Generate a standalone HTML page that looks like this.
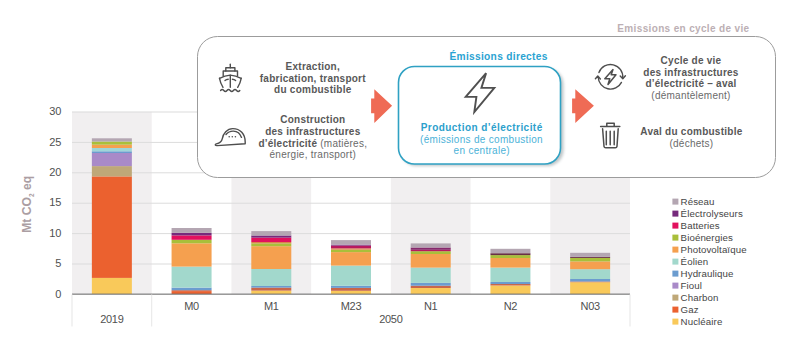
<!DOCTYPE html>
<html><head><meta charset="utf-8"><style>
html,body{margin:0;padding:0;background:#fff;width:800px;height:350px;overflow:hidden}
svg{display:block;font-family:"Liberation Sans",sans-serif}
.ax{font-size:11px;fill:#505050;letter-spacing:-0.3px}
.lg{font-size:9.7px;fill:#454545;letter-spacing:0.1px}
.yt{font-size:12.2px;font-weight:bold;fill:#ab9ea3}
.ttl{font-size:10px;font-weight:bold;fill:#bcafb4;letter-spacing:0.35px}
.bl{font-size:10.2px;font-weight:bold;fill:#2aa3d2;letter-spacing:0.3px}
.blb{font-size:10px;font-weight:bold;fill:#2ba0cc;letter-spacing:0.45px}
.blr{font-size:10px;fill:#4bb2d8;letter-spacing:0.3px}
.dk{font-size:10px;font-weight:bold;fill:#585858;letter-spacing:0.25px}
.rg{font-weight:normal;fill:#6a6a6a}
</style></head><body>
<svg width="800" height="350" viewBox="0 0 800 350">
<defs><filter id="blur" x="-10%" y="-10%" width="120%" height="120%"><feGaussianBlur stdDeviation="1.5"/></filter></defs>
<rect x="72.00" y="111.8" width="79.71" height="182.20" fill="#f1eff0"/>
<rect x="231.43" y="111.8" width="79.71" height="182.20" fill="#f1eff0"/>
<rect x="390.86" y="111.8" width="79.71" height="182.20" fill="#f1eff0"/>
<rect x="550.29" y="111.8" width="79.71" height="182.20" fill="#f1eff0"/>
<rect x="72.0" y="263.50" width="558.0" height="1" fill="#dcdcdc"/>
<rect x="72.0" y="233.10" width="558.0" height="1" fill="#dcdcdc"/>
<rect x="72.0" y="202.70" width="558.0" height="1" fill="#dcdcdc"/>
<rect x="72.0" y="172.30" width="558.0" height="1" fill="#dcdcdc"/>
<rect x="72.0" y="141.90" width="558.0" height="1" fill="#dcdcdc"/>
<rect x="72.0" y="111.50" width="558.0" height="1" fill="#dcdcdc"/>
<rect x="91.86" y="277.90" width="40.0" height="16.10" fill="#f9c95a"/>
<rect x="91.86" y="176.40" width="40.0" height="101.50" fill="#eb612f"/>
<rect x="91.86" y="166.10" width="40.0" height="10.30" fill="#bfa878"/>
<rect x="91.86" y="153.00" width="40.0" height="13.10" fill="#a98ac8"/>
<rect x="91.86" y="151.30" width="40.0" height="1.70" fill="#6b9ccf"/>
<rect x="91.86" y="148.00" width="40.0" height="3.30" fill="#9fd6d8"/>
<rect x="91.86" y="144.60" width="40.0" height="3.40" fill="#f5a04f"/>
<rect x="91.86" y="141.50" width="40.0" height="3.10" fill="#a9bf3a"/>
<rect x="91.86" y="138.30" width="40.0" height="3.20" fill="#b4a6b2"/>
<rect x="171.57" y="291.10" width="40.0" height="2.90" fill="#eb612f"/>
<rect x="171.57" y="290.20" width="40.0" height="0.90" fill="#c8674a"/>
<rect x="171.57" y="287.60" width="40.0" height="2.60" fill="#6b9ccf"/>
<rect x="171.57" y="266.60" width="40.0" height="21.00" fill="#a2d8cc"/>
<rect x="171.57" y="243.30" width="40.0" height="23.30" fill="#f5a04f"/>
<rect x="171.57" y="239.80" width="40.0" height="3.50" fill="#a9bf3a"/>
<rect x="171.57" y="235.40" width="40.0" height="4.40" fill="#e2105e"/>
<rect x="171.57" y="232.90" width="40.0" height="2.50" fill="#762a7c"/>
<rect x="171.57" y="228.00" width="40.0" height="4.90" fill="#b4a6b2"/>
<rect x="251.29" y="290.60" width="40.0" height="3.40" fill="#f9c95a"/>
<rect x="251.29" y="287.60" width="40.0" height="3.00" fill="#c8674a"/>
<rect x="251.29" y="286.00" width="40.0" height="1.60" fill="#6b9ccf"/>
<rect x="251.29" y="269.00" width="40.0" height="17.00" fill="#a2d8cc"/>
<rect x="251.29" y="246.20" width="40.0" height="22.80" fill="#f5a04f"/>
<rect x="251.29" y="243.40" width="40.0" height="2.80" fill="#a9bf3a"/>
<rect x="251.29" y="242.00" width="40.0" height="1.40" fill="#d9844a"/>
<rect x="251.29" y="237.60" width="40.0" height="4.40" fill="#e2105e"/>
<rect x="251.29" y="235.50" width="40.0" height="2.10" fill="#762a7c"/>
<rect x="251.29" y="231.10" width="40.0" height="4.40" fill="#b4a6b2"/>
<rect x="331.00" y="290.80" width="40.0" height="3.20" fill="#f9c95a"/>
<rect x="331.00" y="287.90" width="40.0" height="2.90" fill="#c8674a"/>
<rect x="331.00" y="285.80" width="40.0" height="2.10" fill="#6b9ccf"/>
<rect x="331.00" y="265.60" width="40.0" height="20.20" fill="#a2d8cc"/>
<rect x="331.00" y="252.10" width="40.0" height="13.50" fill="#f5a04f"/>
<rect x="331.00" y="249.70" width="40.0" height="2.40" fill="#a9bf3a"/>
<rect x="331.00" y="248.30" width="40.0" height="1.40" fill="#d9844a"/>
<rect x="331.00" y="245.60" width="40.0" height="2.70" fill="#b8195e"/>
<rect x="331.00" y="244.60" width="40.0" height="1.00" fill="#762a7c"/>
<rect x="331.00" y="240.10" width="40.0" height="4.50" fill="#b4a6b2"/>
<rect x="410.71" y="288.00" width="40.0" height="6.00" fill="#f9c95a"/>
<rect x="410.71" y="285.70" width="40.0" height="2.30" fill="#c8674a"/>
<rect x="410.71" y="282.90" width="40.0" height="2.80" fill="#6b9ccf"/>
<rect x="410.71" y="267.60" width="40.0" height="15.30" fill="#a2d8cc"/>
<rect x="410.71" y="254.00" width="40.0" height="13.60" fill="#f5a04f"/>
<rect x="410.71" y="251.20" width="40.0" height="2.80" fill="#a9bf3a"/>
<rect x="410.71" y="249.80" width="40.0" height="1.40" fill="#b8195e"/>
<rect x="410.71" y="247.50" width="40.0" height="2.30" fill="#86286c"/>
<rect x="410.71" y="243.40" width="40.0" height="4.10" fill="#b4a6b2"/>
<rect x="490.43" y="285.50" width="40.0" height="8.50" fill="#f9c95a"/>
<rect x="490.43" y="284.00" width="40.0" height="1.50" fill="#c8674a"/>
<rect x="490.43" y="282.00" width="40.0" height="2.00" fill="#6b9ccf"/>
<rect x="490.43" y="267.60" width="40.0" height="14.40" fill="#a2d8cc"/>
<rect x="490.43" y="258.00" width="40.0" height="9.60" fill="#f5a04f"/>
<rect x="490.43" y="255.10" width="40.0" height="2.90" fill="#a9bf3a"/>
<rect x="490.43" y="253.20" width="40.0" height="1.90" fill="#6a3045"/>
<rect x="490.43" y="248.80" width="40.0" height="4.40" fill="#b4a6b2"/>
<rect x="570.14" y="282.20" width="40.0" height="11.80" fill="#f9c95a"/>
<rect x="570.14" y="281.50" width="40.0" height="0.70" fill="#c8674a"/>
<rect x="570.14" y="279.00" width="40.0" height="2.50" fill="#6b9ccf"/>
<rect x="570.14" y="269.20" width="40.0" height="9.80" fill="#a2d8cc"/>
<rect x="570.14" y="261.40" width="40.0" height="7.80" fill="#f5a04f"/>
<rect x="570.14" y="257.90" width="40.0" height="3.50" fill="#a9bf3a"/>
<rect x="570.14" y="256.90" width="40.0" height="1.00" fill="#6a3045"/>
<rect x="570.14" y="252.80" width="40.0" height="4.10" fill="#b4a6b2"/>
<rect x="72.0" y="293.6" width="558.0" height="1.1" fill="#707070"/>
<rect x="71.50" y="294.5" width="1" height="32" fill="#e6e6e6"/>
<rect x="151.21" y="294.5" width="1" height="32" fill="#e6e6e6"/>
<rect x="629.50" y="294.5" width="1" height="32" fill="#e6e6e6"/>
<text x="61" y="297.50" text-anchor="end" class="ax">0</text>
<text x="61" y="267.10" text-anchor="end" class="ax">5</text>
<text x="61" y="236.70" text-anchor="end" class="ax">10</text>
<text x="61" y="206.30" text-anchor="end" class="ax">15</text>
<text x="61" y="175.90" text-anchor="end" class="ax">20</text>
<text x="61" y="145.50" text-anchor="end" class="ax">25</text>
<text x="61" y="115.10" text-anchor="end" class="ax">30</text>
<text x="111.86" y="323" text-anchor="middle" class="ax">2019</text>
<text x="191.57" y="310" text-anchor="middle" class="ax">M0</text>
<text x="271.29" y="310" text-anchor="middle" class="ax">M1</text>
<text x="351.00" y="310" text-anchor="middle" class="ax">M23</text>
<text x="430.71" y="310" text-anchor="middle" class="ax">N1</text>
<text x="510.43" y="310" text-anchor="middle" class="ax">N2</text>
<text x="590.14" y="310" text-anchor="middle" class="ax">N03</text>
<text x="390.86" y="322.7" text-anchor="middle" class="ax">2050</text>
<text transform="translate(31,204.3) rotate(-90)" text-anchor="middle" class="yt">Mt CO<tspan font-size="6.5" dy="2.5">2</tspan><tspan dy="-2.5"> eq</tspan></text>
<rect x="672.4" y="198.60" width="6" height="6" fill="#b4a6b2"/>
<text x="680.6" y="205.10" class="lg">Réseau</text>
<rect x="672.4" y="210.60" width="6" height="6" fill="#762a7c"/>
<text x="680.6" y="217.10" class="lg">Électrolyseurs</text>
<rect x="672.4" y="222.60" width="6" height="6" fill="#e2105e"/>
<text x="680.6" y="229.10" class="lg">Batteries</text>
<rect x="672.4" y="234.60" width="6" height="6" fill="#a9bf3a"/>
<text x="680.6" y="241.10" class="lg">Bioénergies</text>
<rect x="672.4" y="246.60" width="6" height="6" fill="#f5a04f"/>
<text x="680.6" y="253.10" class="lg">Photovoltaïque</text>
<rect x="672.4" y="258.60" width="6" height="6" fill="#a2d8cc"/>
<text x="680.6" y="265.10" class="lg">Éolien</text>
<rect x="672.4" y="270.60" width="6" height="6" fill="#6b9ccf"/>
<text x="680.6" y="277.10" class="lg">Hydraulique</text>
<rect x="672.4" y="282.60" width="6" height="6" fill="#a98ac8"/>
<text x="680.6" y="289.10" class="lg">Fioul</text>
<rect x="672.4" y="294.60" width="6" height="6" fill="#bfa878"/>
<text x="680.6" y="301.10" class="lg">Charbon</text>
<rect x="672.4" y="306.60" width="6" height="6" fill="#eb612f"/>
<text x="680.6" y="313.10" class="lg">Gaz</text>
<rect x="672.4" y="318.60" width="6" height="6" fill="#f9c95a"/>
<text x="680.6" y="325.10" class="lg">Nucléaire</text>
<rect x="197.5" y="36.5" width="578" height="141" rx="20" ry="20" fill="#fff" stroke="#9c9c9c" stroke-width="1"/>
<text x="749.5" y="31.5" text-anchor="end" class="ttl">Emissions en cycle de vie</text>
<rect x="400.5" y="68.5" width="163" height="97.5" rx="16" ry="16" fill="#7f8c90" opacity="0.5" filter="url(#blur)"/>
<rect x="398.5" y="66.5" width="162" height="97.5" rx="16" ry="16" fill="#fff" stroke="#2fa1c3" stroke-width="1.6"/>
<text x="498.6" y="59.6" text-anchor="middle" class="bl">Émissions directes</text>
<path d="M486.1 73.1 L465.7 96.9 L476.4 96.9 L474.3 112.1 L494.3 87.9 L481.4 87.9 Z" fill="none" stroke="#505050" stroke-width="1.9" stroke-linejoin="miter"/>
<text x="481.7" y="131.4" text-anchor="middle" class="blb">Production d’électricité</text>
<text x="481.5" y="143" text-anchor="middle" class="blr">(émissions de combustion</text>
<text x="481.8" y="154.3" text-anchor="middle" class="blr">en centrale)</text>
<path d="M371.1 98.6 L374.3 98.6 L374.3 89.3 L392.1 105.7 L374.3 122.9 L374.3 113.3 L371.1 113.3 Z" fill="#ef6b55"/>
<path d="M572.1 98.6 L575.3 98.6 L575.3 89.3 L593.9 105.7 L575.3 122.9 L575.3 113.3 L572.1 113.3 Z" fill="#ef6b55"/>
<text x="312.8" y="70" text-anchor="middle" class="dk"><tspan x="312.8">Extraction,</tspan><tspan x="312.8" y="81.6">fabrication, transport</tspan><tspan x="312.8" y="93.2">du combustible</tspan></text>
<text x="312.8" y="123.3" text-anchor="middle" class="dk"><tspan x="312.8">Construction</tspan><tspan x="312.8" y="134.8">des infrastructures</tspan><tspan x="312.8" y="146.5">d’électricité <tspan class="rg">(matières,</tspan></tspan><tspan x="312.8" y="158" class="rg">énergie, transport)</tspan></text>
<text x="691" y="63.8" text-anchor="middle" class="dk"><tspan x="691">Cycle de vie</tspan><tspan x="691" y="75.8">des infrastructures</tspan><tspan x="691" y="87.4">d’électricité – aval</tspan><tspan x="691" y="98.8" class="rg">(démantèlement)</tspan></text>
<text x="691.4" y="134.8" text-anchor="middle" class="dk"><tspan x="691.4">Aval du combustible</tspan><tspan x="691.4" y="146.7" class="rg">(déchets)</tspan></text>
<g fill="none" stroke="#4e4e4e" stroke-width="1.4" stroke-linejoin="round" stroke-linecap="round">
<path d="M230.3 64.2 V67.8"/>
<path d="M225.8 71 V67.8 H234.9 V71"/>
<path d="M223.2 76 V71 H237.5 V76"/>
<path d="M219.5 78.3 Q225 75.6 230.3 75.1 Q235.6 75.6 241.2 78.3"/>
<path d="M219.5 78.3 Q220.5 83.5 223 87.3 M241.2 78.3 Q240.2 83.5 237.7 87.3"/>
<path d="M230.3 75.1 V87.3"/>
<path d="M225 80.6 Q226.3 79.3 228.2 79.3 M232.4 79.3 Q234.3 79.3 235.6 80.6"/>
<path d="M220.6 90.5 q1.6 -1.9 3.2 0 t3.2 0 t3.2 0 t3.2 0 t3.2 0 t3.2 0"/>
</g>
<g fill="none" stroke="#4e4e4e" stroke-width="1.4" stroke-linejoin="round" stroke-linecap="round">
<path d="M216.4 143.9 C219.2 143.2 221.6 142 222.3 138.6 C223.2 133.6 227 128.6 232.8 128.6 C240.2 128.6 245.2 134 245.2 142 L245.2 143.8 L217.2 145.6 C215 145.7 214.6 144.4 216.4 143.9 Z"/>
<path d="M226 134.5 C228.2 131.8 230.8 131 233.4 131.1 C237.4 131.3 240.3 134 241.5 137.4"/>
</g>
<g fill="#4e4e4e"><circle cx="229.2" cy="136.7" r="0.8"/><circle cx="232.3" cy="136.7" r="0.8"/><circle cx="235.4" cy="136.7" r="0.8"/></g>
<g fill="none" stroke="#4e4e4e" stroke-width="1.4" stroke-linejoin="round" stroke-linecap="round">
<path d="M598.94 72.59 A12.3 12.3 0 0 1 622.73 78.09"/>
<path d="M620.2 76 L622.8 78.8 L625.4 75.8"/>
<path d="M621.46 82.38 A12.3 12.3 0 0 1 598.21 77.23"/>
<path d="M595.4 78.8 L597.8 76 L600.4 79"/>
<path d="M613 69.6 L604.8 78.8 L609.8 78.8 L608 84.5 L616 74.8 L611.2 74.8 Z" stroke-width="1.5"/>
</g>
<g fill="none" stroke="#4e4e4e" stroke-width="1.5" stroke-linejoin="round" stroke-linecap="round">
<path d="M606.8 126.3 V123.3 H614.2 V126.3"/>
<path d="M600.6 126.6 H619.8"/>
<path d="M602.6 128.8 L604 146.3 Q604.2 147.8 605.7 147.8 H615.3 Q616.8 147.8 617 146.3 L618.2 128.8"/>
<path d="M606.3 131.2 V144.8 M610.2 131.2 V144.8 M614.2 131.2 V144.8"/>
</g>
</svg>
</body></html>
